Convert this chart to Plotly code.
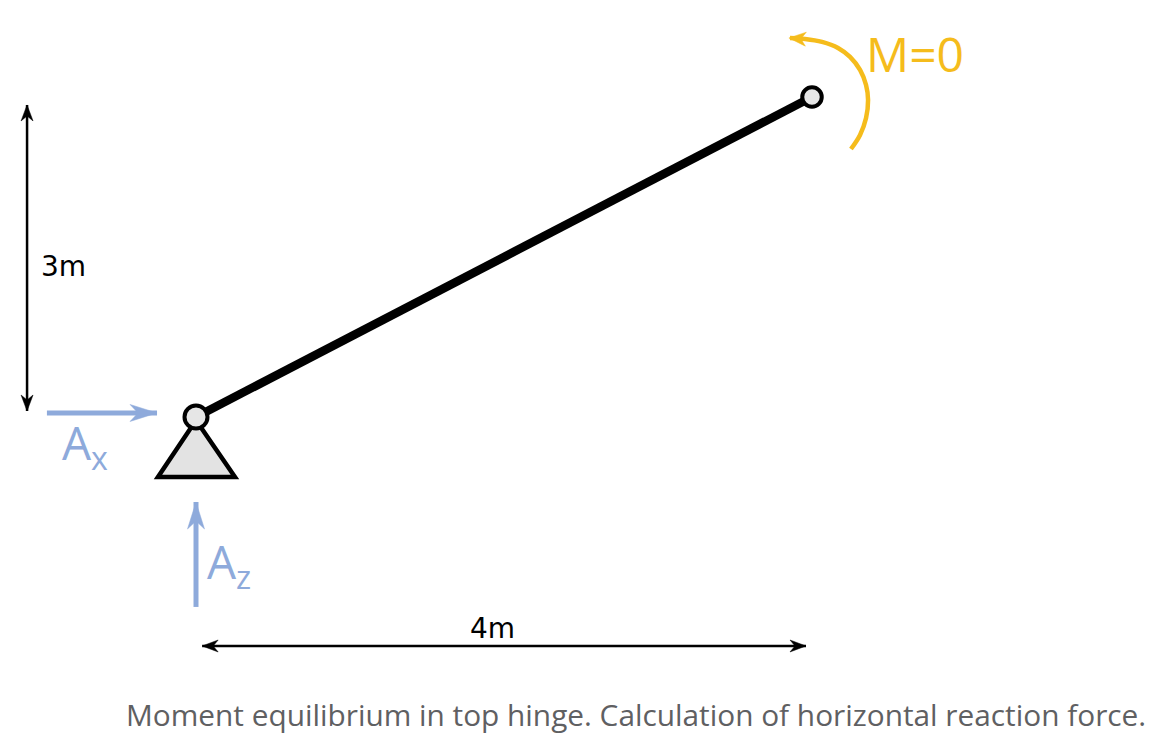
import plotly.graph_objects as go

# all lengths in metres, bar goes from the bottom hinge to the top hinge
bar_x = [0, 4]
bar_y = [0, 3]

support_x = [0, -0.247, 0.253]
support_y = [-0.03, -0.5625, -0.5625]

# moment arc
moment_x = [4.253, 4.312, 4.351, 4.364, 4.351, 4.312, 4.247, 4.169, 4.065, 3.955, 3.857]
moment_y = [2.512, 2.644, 2.803, 2.972, 3.112, 3.253, 3.375, 3.459, 3.516, 3.544, 3.553]

# arrows: start x, start y, end x, end y
force_ax = [-0.968, 0.0375, -0.253, 0.0375]
force_az = [0, -1.781, 0, -0.797]
moment_tip = [3.98, 3.54, 3.85, 3.553]
dim_3m = [-1.097, 0.056, -1.097, 2.925]
dim_4m = [0.04, -2.147, 3.961, -2.147]

caption = "Moment equilibrium in top hinge. Calculation of horizontal reaction force."

black = "#000000"
blue = "#8eaadb"
yellow = "#f5bc1c"

# pixels per metre, from the axis ranges below and the 1166x739 page
PX_X = 154.0
PX_Y = 106.67

fig = go.Figure()

path = "M" + "L".join(f"{x},{y}" for x, y in zip(support_x, support_y)) + "Z"
fig.add_shape(type="path", path=path, xref="x", yref="y", fillcolor="#e3e3e3",
              line=dict(color=black, width=4.5), layer="below")
fig.add_trace(go.Scatter(x=bar_x, y=bar_y, mode="lines", line=dict(color=black, width=8.5)))
fig.add_trace(go.Scatter(x=bar_x[:1], y=bar_y[:1], mode="markers",
                         marker=dict(size=23, color="#e6e6e6", line=dict(color=black, width=4))))
fig.add_trace(go.Scatter(x=bar_x[1:], y=bar_y[1:], mode="markers",
                         marker=dict(size=19.5, color="#e6e6e6", line=dict(color=black, width=4))))
fig.add_trace(go.Scatter(x=moment_x, y=moment_y, mode="lines",
                         line=dict(color=yellow, width=4.5, shape="spline")))


# concave arrow head with its tip at (x1, y1), coming from (x0, y0)
def add_head(x0, y0, x1, y1, color, length, half, notch):
    dx = (x1 - x0) * PX_X
    dy = (y1 - y0) * PX_Y
    n = (dx ** 2 + dy ** 2) ** 0.5
    dx, dy = dx / n, dy / n
    xs = [x1, x1 - (length * dx - half * dy) / PX_X, x1 - (length - notch) * dx / PX_X,
          x1 - (length * dx + half * dy) / PX_X, x1]
    ys = [y1, y1 - (length * dy + half * dx) / PX_Y, y1 - (length - notch) * dy / PX_Y,
          y1 - (length * dy - half * dx) / PX_Y, y1]
    fig.add_trace(go.Scatter(x=xs, y=ys, mode="lines", fill="toself", fillcolor=color,
                             line=dict(color=color, width=0.5)))


def add_arrow(a, color, width, length, half, notch, both=False):
    fig.add_trace(go.Scatter(x=[a[0], a[2]], y=[a[1], a[3]], mode="lines",
                             line=dict(color=color, width=width)))
    add_head(a[0], a[1], a[2], a[3], color, length, half, notch)
    if both:
        add_head(a[2], a[3], a[0], a[1], color, length, half, notch)


add_arrow(force_ax, blue, 5, 27, 8.5, 8)
add_arrow(force_az, blue, 5, 27, 8.5, 8)
add_head(*moment_tip, yellow, 17, 7, 5)
add_arrow(dim_3m, black, 2.5, 16, 6, 5, both=True)
add_arrow(dim_4m, black, 2.5, 16, 6, 5, both=True)


def add_label(x, y, text, size, color, font="DejaVu Sans"):
    fig.add_annotation(x=x, y=y, text=text, showarrow=False, xanchor="center", yanchor="middle",
                       font=dict(family=font, size=size, color=color))


add_label(-0.86, 1.41, "3m", 28, black)
add_label(1.925, -1.985, "4m", 28, black)
add_label(-0.72, -0.265, "A<sub>x</sub>", 46, blue, font="Open Sans")
add_label(0.215, -1.375, "A<sub>z</sub>", 46, blue, font="Open Sans")
add_label(4.67, 3.41, "M=0", 48, yellow, font="Open Sans")
add_label(2.855, -2.785, caption, 29.8, "#5f6062", font="Open Sans")

fig.update_layout(
    width=1166, height=739,
    margin=dict(l=0, r=0, t=0, b=0),
    showlegend=False,
    plot_bgcolor="white", paper_bgcolor="white",
    xaxis=dict(range=[-1.2727, 6.2987], visible=False),
    yaxis=dict(range=[-3.019, 3.909], visible=False),
)

fig.write_html("out.html", config=dict(displayModeBar=False),
               post_script="document.body.style.margin='0';")
